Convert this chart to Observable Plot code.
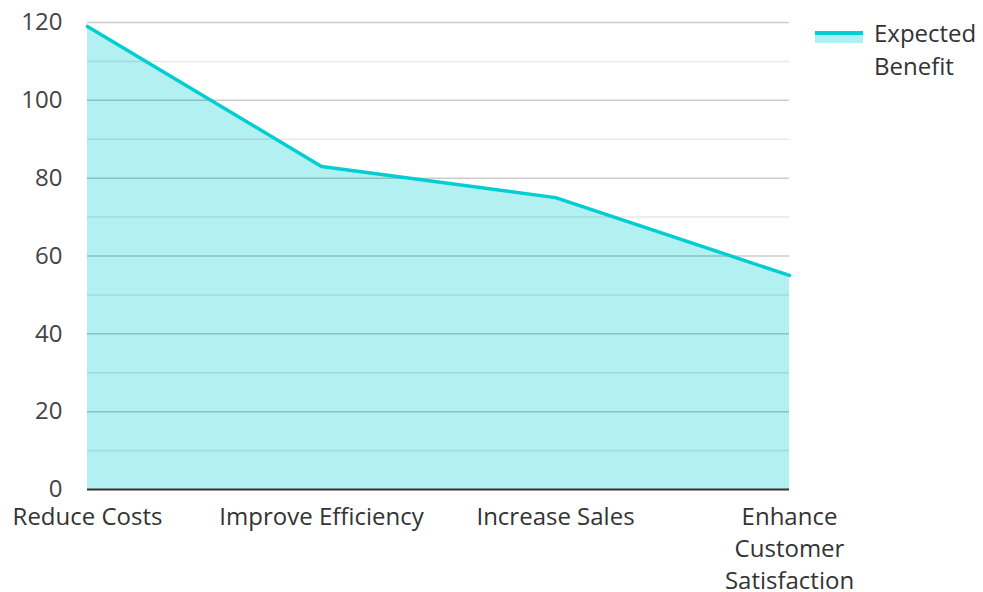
<!DOCTYPE html>
<html>
<head>
<meta charset="utf-8">
<script src="https://cdn.jsdelivr.net/npm/d3@7"></script>
<script src="https://cdn.jsdelivr.net/npm/@observablehq/plot@0.6"></script>
<style>
  html, body { margin: 0; padding: 0; background: #fff; }
  body { font-family: "Open Sans", "Noto Sans", sans-serif; }
  #wrap { position: relative; width: 983px; height: 592px; }
  #legend { position: absolute; left: 815px; top: 16px; display: flex; align-items: flex-start; font-size: 24px; color: #333; line-height: 33px; }
  #legend .sw { width: 48px; height: 12px; background: #b2f0f0; border-top: 4px solid #00ced1; margin-top: 15px; margin-right: 11px; box-sizing: border-box; }
</style>
</head>
<body>
<div id="wrap">
  <div id="chart"></div>
  <div id="legend"><div class="sw"></div><div>Expected<br>Benefit</div></div>
</div>
<script>
const categories = ["Reduce Costs", "Improve Efficiency", "Increase Sales", "Enhance Customer Satisfaction"];
const tickLabels = ["Reduce Costs", "Improve Efficiency", "Increase Sales", "Enhance\nCustomer\nSatisfaction"];
const expectedBenefit = [119, 83, 75, 55];
const yMajorTicks = [0, 20, 40, 60, 80, 100, 120];
const yMinorTicks = [10, 30, 50, 70, 90, 110];

const data = categories.map((c, i) => ({category: c, value: expectedBenefit[i]}));
const labelOf = new Map(categories.map((c, i) => [c, tickLabels[i]]));

const chart = Plot.plot({
  width: 983,
  height: 592,
  marginTop: 22,
  marginBottom: 103,
  marginLeft: 87,
  marginRight: 194,
  style: {fontFamily: '"Open Sans", "Noto Sans", sans-serif', fontSize: "24px", color: "#333", background: "#fff", overflow: "visible"},
  x: {type: "point", domain: categories, padding: 0, label: null},
  y: {domain: [0, 120], label: null},
  marks: [
    Plot.areaY(data, {x: "category", y: "value", fill: "#00ced1", fillOpacity: 0.3}),
    Plot.ruleY(yMinorTicks, {stroke: "#000", strokeOpacity: 0.09, strokeWidth: 1.5}),
    Plot.ruleY(yMajorTicks.filter(d => d > 0), {stroke: "#000", strokeOpacity: 0.2, strokeWidth: 1.5}),
    Plot.lineY(data, {x: "category", y: "value", stroke: "#00ced1", strokeWidth: 3.5}),
    Plot.ruleY([0], {stroke: "#333", strokeWidth: 2}),
    Plot.axisY({ticks: yMajorTicks, tickSize: 0, tickPadding: 25, fontSize: 24, fill: "#444", label: null}),
    Plot.axisX({tickSize: 0, tickPadding: 13, fontSize: 24, fill: "#333", lineHeight: 1.333, tickFormat: d => labelOf.get(d), label: null})
  ]
});
document.getElementById("chart").appendChild(chart);
</script>
</body>
</html>
